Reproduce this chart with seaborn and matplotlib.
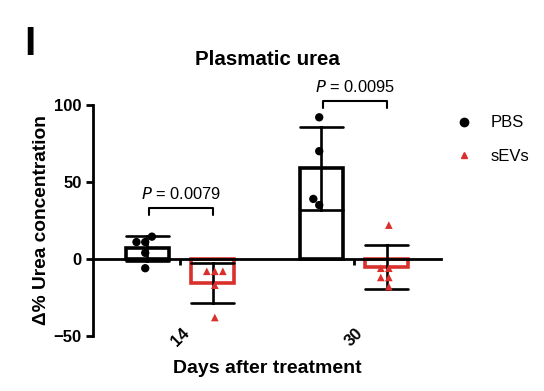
import numpy as np
import pandas as pd
import matplotlib
matplotlib.use("Agg")
import matplotlib.pyplot as plt
from matplotlib.lines import Line2D
import seaborn as sns

# ---- data ----
days = ["14", "30"]
groups = ["PBS", "sEVs"]
pbs_d14 = [14.5, 11, 11, 4, -6]
sev_d14 = [-8, -8, -8, -17, -38]
pbs_d30 = [92, 70, 39, 35]
sev_d30 = [22, -6, -6, -12, -12, -18]
p_values = ["0.0079", "0.0095"]
bracket_heights = [33, 102.5]
yticks = [-50, 0, 50, 100]

rows = []
for d, g, vals in [("14", "PBS", pbs_d14), ("14", "sEVs", sev_d14),
                   ("30", "PBS", pbs_d30), ("30", "sEVs", sev_d30)]:
    for v in vals:
        rows.append({"day": d, "group": g, "value": v})
df = pd.DataFrame(rows)

RED = "#d9302c"
palette = {"PBS": "black", "sEVs": RED}

sns.set_style("ticks")
plt.rcParams["font.family"] = ["Liberation Sans", "DejaVu Sans"]
for k in ["text.color", "axes.labelcolor", "xtick.color", "ytick.color",
          "axes.edgecolor"]:
    plt.rcParams[k] = "black"

fig = plt.figure(figsize=(5.44, 3.91), dpi=100)
ax = fig.add_axes([0.171, 0.1407, 0.6397, 0.5908])

sns.barplot(data=df, x="day", y="value", hue="group", order=days, hue_order=groups,
            palette=palette, fill=False, linewidth=2.6, width=0.75, gap=0.35,
            errorbar="sd", capsize=0.5,
            err_kws={"color": "black", "linewidth": 1.9},
            legend=False, ax=ax)

sns.swarmplot(data=df[df.group == "PBS"], x="day", y="value", hue="group",
              order=days, hue_order=groups, palette=palette, dodge=True,
              marker="o", size=6, legend=False, ax=ax, zorder=4)
sns.swarmplot(data=df[df.group == "sEVs"], x="day", y="value", hue="group",
              order=days, hue_order=groups, palette=palette, dodge=True,
              marker="^", size=5.5, legend=False, ax=ax, zorder=4)

ax.set_xlim(-0.5, 1.5)
ax.set_ylim(-50, 100)
ax.set_yticks(yticks)
ax.set_yticklabels([str(t).replace("-", "\u2212") for t in yticks],
                   fontweight="bold", fontsize=12)

sns.despine(ax=ax)
ax.spines["bottom"].set_position(("data", 0))
ax.spines["bottom"].set_linewidth(2)
ax.spines["left"].set_linewidth(2)
ax.spines["bottom"].set_color("black")
ax.spines["left"].set_color("black")
ax.tick_params(axis="y", length=5, width=2, direction="out", pad=3, colors="black")
ax.tick_params(axis="x", length=4, width=2, direction="out", pad=44, colors="black")
for lab in ax.get_xticklabels():
    lab.set_rotation(45)
    lab.set_fontweight("bold")
    lab.set_fontsize(12)
    lab.set_ha("center")

ax.set_xlabel("Days after treatment", fontweight="bold", fontsize=14, labelpad=8,
              color="black")
ax.set_ylabel("Δ% Urea concentration", fontweight="bold", fontsize=13.8, labelpad=3,
              color="black")
ax.set_title("Plasmatic urea", fontweight="bold", fontsize=14.8, pad=29, color="black")

# significance brackets
for i, (p, h) in enumerate(zip(p_values, bracket_heights)):
    x0, x1 = i - 0.18, i + 0.19
    ax.plot([x0, x0, x1, x1], [h - 4.5, h, h, h - 4.5], color="black", lw=1.5,
            clip_on=False)
    ax.text((x0 + x1) / 2, h + 4, r"$\it{P}$ = " + p, ha="center", va="bottom",
            fontsize=11.8, clip_on=False, color="black")

handles = [Line2D([], [], marker="o", color="black", linestyle="none", markersize=6),
           Line2D([], [], marker="^", color=RED, linestyle="none", markersize=5)]
leg = fig.legend(handles, groups, loc="upper left", bbox_to_anchor=(0.794, 0.743),
                 frameon=False, fontsize=12, handletextpad=0.6, labelspacing=1.1)
for t in leg.get_texts():
    t.set_color("black")

fig.text(0.044, 0.935, "I", fontsize=29, fontweight="bold", ha="left", va="top",
         color="black")

fig.savefig("out.png", dpi=100)
